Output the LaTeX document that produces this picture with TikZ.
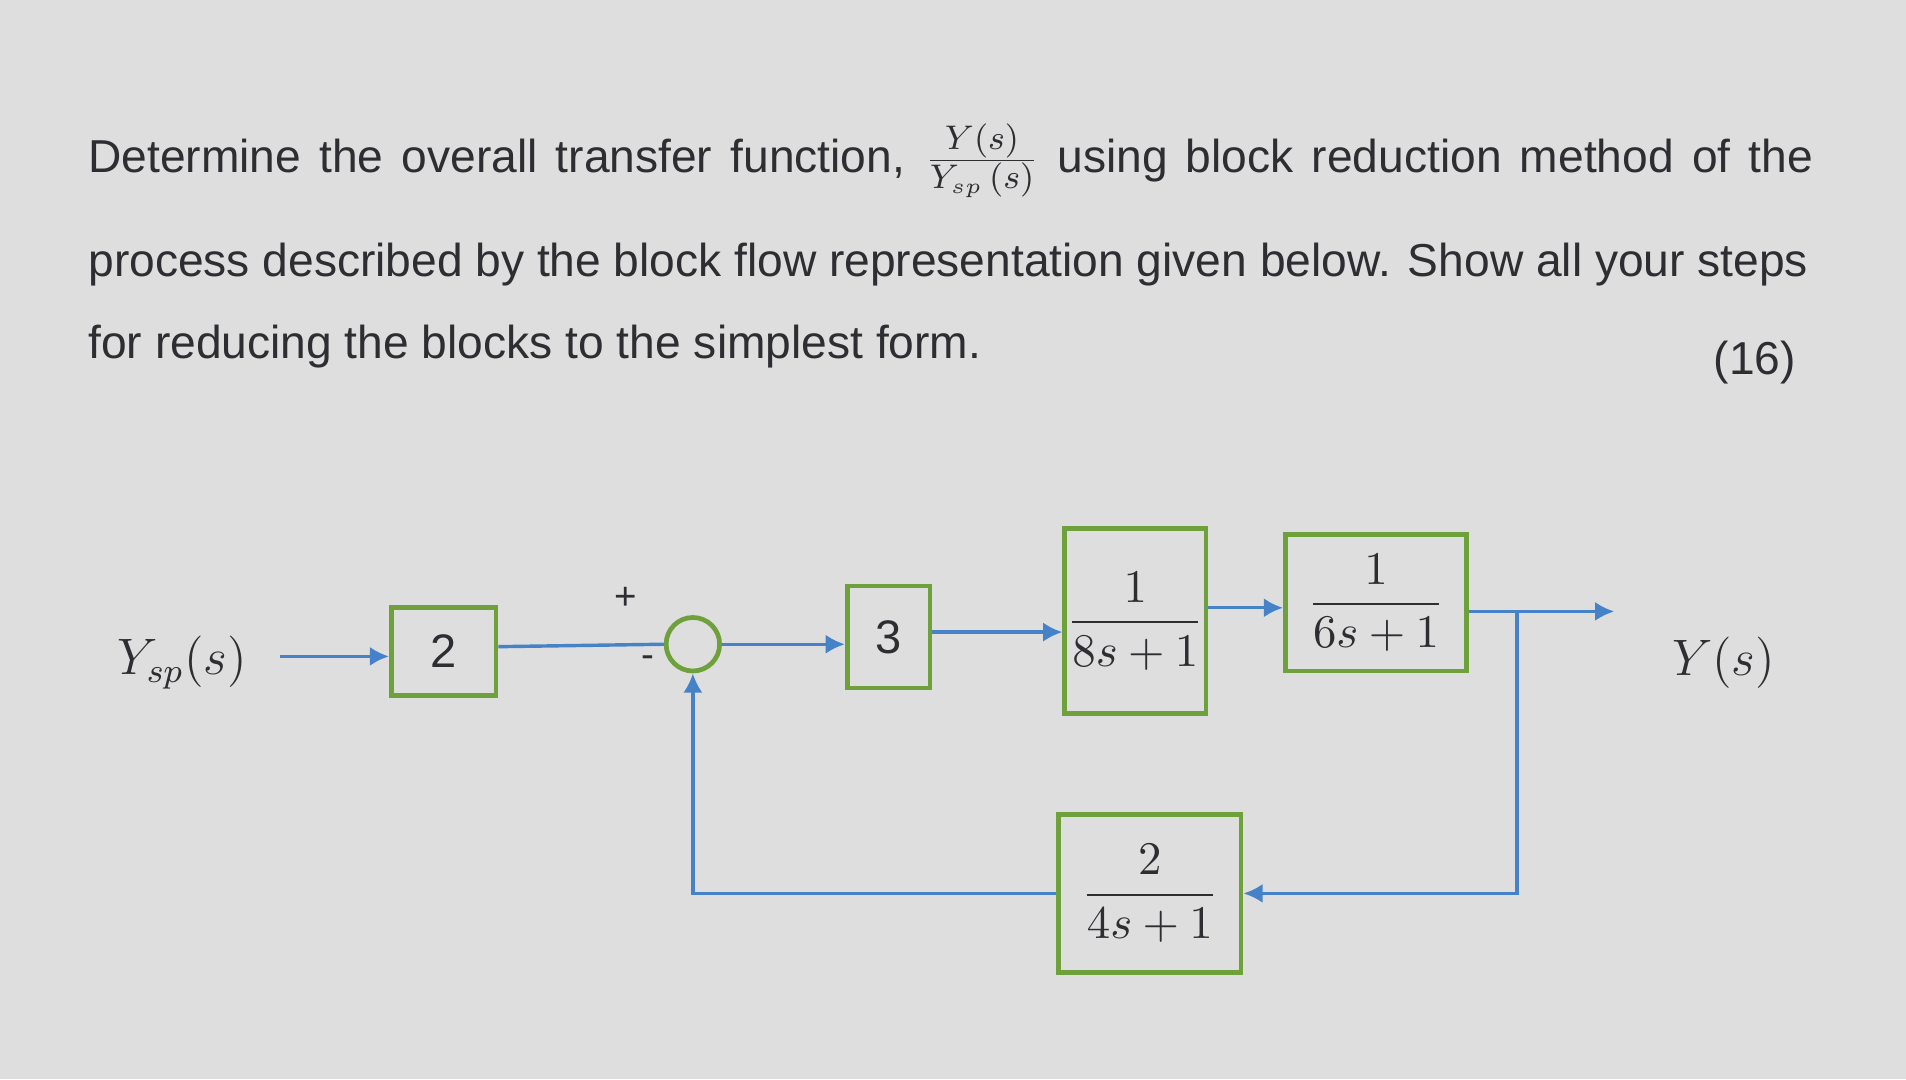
\documentclass[tikz,border=0pt]{standalone}
\usepackage{fontspec}
\setmainfont{Liberation Sans}
\usepackage{amsmath}
\usetikzlibrary{arrows.meta}
\definecolor{bg}{RGB}{222,222,222}
\definecolor{txt}{RGB}{45,45,50}
\definecolor{bgreen}{RGB}{110,160,60}
\definecolor{lblue}{RGB}{70,130,200}
\tikzset{
 blk/.style={draw=bgreen,line width=1.1pt,inner sep=0pt,text=txt,font=\fontsize{11}{13}\selectfont},
 sig/.style={draw=lblue,line width=0.8pt},
 arr/.style={sig,-{Latex[length=4.5pt,width=4.5pt]}},
 para/.style={anchor=west,text=txt,font=\fontsize{10.8}{15}\selectfont,inner sep=0pt}
}
\begin{document}
\begin{tikzpicture}[x=0.01cm,y=-0.01cm]
\fill[bg] (0,0) rectangle (1568,888);
\useasboundingbox (0,0) rectangle (1568,888);
\node[para] (l1) at (72,132) {\hbox to 14.18cm{Determine the overall transfer function, $\frac{Y(s)}{Y_{sp}\,(s)}$ using block reduction method of the}};
\node[para] (l2) at (72,218) {\hbox to 14.14cm{process described by the block flow representation given below. Show all your steps}};
\node[para] (l3) at (72,285) {for reducing the blocks to the simplest form.};
\node[para,anchor=east] (mk) at (1478,298) {(16)};
\node[text=txt,font=\fontsize{12}{14}\selectfont] (ysp) at (150,545) {$Y_{sp}(s)$};
\node[text=txt,font=\fontsize{12}{14}\selectfont] (ys) at (1418,545) {$Y(s)$};
\node[blk,minimum width=0.86cm,minimum height=0.72cm] (b2) at (365,536) {2};
\node[draw=bgreen,line width=1.1pt,circle,minimum size=0.44cm,inner sep=0pt] (sum) at (570,530) {};
\node[blk,minimum width=0.68cm,minimum height=0.84cm] (b3) at (731,524) {3};
\node[blk,minimum width=1.16cm,minimum height=1.52cm] (b8) at (934,511) {$\dfrac{1}{8s+1}$};
\node[blk,minimum width=1.49cm,minimum height=1.12cm] (b6) at (1132,496) {$\dfrac{1}{6s+1}$};
\node[blk,minimum width=1.5cm,minimum height=1.3cm] (b4) at (946,735) {$\dfrac{2}{4s+1}$};
\node[text=txt,font=\small] (plus) at (515,492) {+};
\node[text=txt,font=\small] (minus) at (533,544) {-};
\coordinate (yin) at (230,540);
\coordinate (br) at (1248,503);
\coordinate (out) at (1328,503);
\draw[arr] (yin) -- (b2.west |- yin);
\draw[sig] (b2.east |- 0,532) -- (sum.west);
\draw[arr] (sum.east) -- (b3.west |- sum.east);
\draw[arr] (b3.east |- 0,520) -- (b8.west |- 0,520);
\draw[arr] (b8.east |- 0,500) -- (b6.west |- 0,500);
\draw[sig] (b6.east |- br) -- (br);
\draw[arr] (br) -- (out);
\draw[arr] (br) -- (br |- b4.east) -- (b4.east);
\draw[arr] (b4.west) -- (b4.west -| sum.south) -- (sum.south);
\end{tikzpicture}
\end{document}
